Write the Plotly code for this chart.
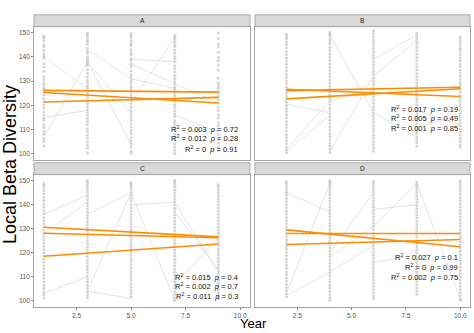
import plotly.graph_objects as go

# ---------------- data ----------------
panels = ["A", "B", "C", "D"]
years = {"A": [1, 3, 5, 7, 9], "B": [2, 4, 6, 8, 10],
         "C": [1, 3, 5, 7, 9], "D": [2, 4, 6, 8, 10]}

A_x1 = [148.6, 147.9, 146.8, 145.1, 144.2, 142.7, 141.3, 140.4, 139.6, 137.2, 135.8, 134.1, 131.9, 130.6, 129.2, 128.3, 127.1, 126.4, 125.6, 124.3, 122.8, 121.5, 120.2, 118.9, 117.3, 116.1, 114.7, 113.8, 112.2, 110.9, 109.4, 108.1, 106.3, 105.2, 103.4]
A_x3 = [149.8, 149.1, 148.2, 147.0, 146.3, 145.2, 143.6, 142.4, 141.5, 140.1, 139.0, 138.2, 137.4, 136.5, 134.8, 133.3, 131.7, 130.4, 129.3, 128.1, 127.2, 126.0, 124.9, 123.4, 122.1, 120.8, 119.6, 118.3, 117.2, 115.9, 114.6, 113.5, 112.1, 110.4, 109.2, 107.8, 106.5, 104.9, 103.6, 102.3, 100.4]
A_x5 = [149.7, 148.8, 147.9, 146.6, 145.4, 144.5, 143.1, 141.8, 140.9, 139.3, 138.4, 137.1, 135.9, 134.2, 132.6, 131.4, 130.2, 129.1, 127.8, 126.9, 125.7, 124.4, 123.3, 122.0, 120.7, 119.2, 117.8, 116.6, 115.1, 113.9, 112.4, 111.1, 109.6, 108.2, 106.7, 105.3, 104.1, 102.8, 101.2, 100.3]
A_x7 = [148.9, 148.1, 147.3, 146.2, 145.1, 144.3, 142.9, 141.6, 140.2, 139.1, 137.9, 136.4, 135.2, 133.8, 132.3, 131.1, 129.9, 128.7, 127.5, 126.6, 125.3, 124.1, 122.9, 121.8, 120.3, 119.1, 117.7, 116.4, 115.3, 113.7, 112.5, 111.3, 109.8, 108.3, 107.1, 105.6, 104.2, 102.9, 101.5, 100.2]
A_x9 = [149.9, 147.6, 145.3, 144.1, 141.9, 139.8, 138.4, 136.7, 134.5, 131.2, 129.4, 128.2, 127.3, 126.1, 125.0, 123.8, 122.3, 120.9, 119.4, 117.9, 116.2, 114.8, 112.9, 111.6, 109.7, 107.9, 106.2, 104.4, 102.7, 101.3]

B_x2 = [149.2, 148.4, 147.5, 146.1, 145.0, 143.7, 142.2, 140.9, 139.6, 138.3, 137.0, 135.6, 134.3, 132.9, 131.5, 130.1, 128.8, 127.4, 126.2, 125.1, 123.9, 122.6, 121.3, 120.0, 118.7, 117.5, 116.2, 114.9, 113.4, 112.1, 110.8, 109.5, 108.0, 106.8, 105.4, 104.2, 102.9, 101.7, 100.5]
B_x4 = [150.1, 149.3, 148.5, 147.4, 146.4, 145.3, 144.0, 142.6, 141.2, 139.9, 138.6, 137.2, 135.7, 134.4, 133.0, 131.8, 130.5, 129.2, 128.0, 126.8, 125.5, 124.2, 123.0, 121.7, 120.4, 119.0, 117.9, 116.5, 115.2, 113.9, 112.6, 111.2, 109.9, 108.4, 107.2, 105.9, 104.5, 103.3, 101.9, 100.6]
B_x6 = [150.8, 149.6, 148.3, 147.1, 145.9, 144.6, 143.4, 142.0, 140.7, 139.4, 138.0, 136.7, 135.4, 134.0, 132.8, 131.3, 130.0, 128.6, 127.3, 126.1, 124.8, 123.6, 122.2, 120.9, 119.5, 118.2, 116.9, 115.6, 114.3, 113.0, 111.6, 110.3, 109.1, 107.7, 106.4, 105.0, 103.8, 102.4, 101.1]
B_x8 = [149.8, 148.7, 147.6, 146.4, 145.2, 143.9, 142.5, 141.1, 139.8, 138.5, 137.1, 135.8, 134.6, 133.2, 131.9, 130.6, 129.3, 128.1, 126.7, 125.4, 124.1, 122.8, 121.6, 120.3, 119.0, 117.6, 116.3, 115.0, 113.8, 112.4, 111.0, 109.7, 108.5, 107.1, 105.8, 104.6, 103.2]
B_x10 = [148.3, 147.2, 146.0, 144.8, 143.5, 142.3, 141.0, 139.7, 138.4, 137.1, 135.9, 134.5, 133.3, 132.0, 130.7, 129.4, 128.2, 126.9, 125.6, 124.3, 123.1, 121.8, 120.5, 119.3, 118.0, 116.7, 115.4, 114.1, 112.8, 111.6, 110.3, 109.0, 107.8, 106.5, 105.2, 103.9, 102.9]

C_x1 = [149.0, 148.1, 147.0, 145.8, 144.5, 143.1, 141.7, 140.3, 139.0, 137.6, 136.2, 134.8, 133.4, 132.1, 130.7, 129.4, 128.0, 126.7, 125.4, 124.0, 122.7, 121.3, 120.0, 118.6, 117.3, 116.0, 114.6, 113.3, 111.9, 110.6, 109.3, 107.9, 106.5, 105.2, 103.8, 102.5, 101.2]
C_x3 = [150.0, 149.2, 148.3, 147.2, 146.0, 144.8, 143.5, 142.1, 140.8, 139.5, 138.2, 136.9, 135.5, 134.2, 132.9, 131.6, 130.3, 128.9, 127.6, 126.3, 125.0, 123.7, 122.3, 121.0, 119.7, 118.4, 117.0, 115.7, 114.4, 113.1, 111.8, 110.4, 109.1, 107.8, 106.5, 105.2, 103.8, 102.5, 101.3]
C_x5 = [149.2, 148.4, 147.5, 146.3, 145.1, 143.9, 142.6, 141.3, 140.0, 138.7, 137.4, 136.0, 134.7, 133.4, 132.0, 130.7, 129.4, 128.1, 126.8, 125.4, 124.1, 122.8, 121.5, 120.2, 118.8, 117.5, 116.2, 114.9, 113.6, 112.2, 110.9, 109.6, 108.3, 106.9, 105.6, 104.3, 103.0, 101.7]
C_x7 = [150.2, 149.4, 148.5, 147.4, 146.2, 145.0, 143.7, 142.4, 141.1, 139.7, 138.4, 137.1, 135.8, 134.4, 133.1, 131.8, 130.5, 129.1, 127.8, 126.5, 125.2, 123.8, 122.5, 121.2, 119.9, 118.5, 117.2, 115.9, 114.6, 113.2, 111.9, 110.6, 109.3, 107.9, 106.6, 105.3, 104.0, 102.6, 101.3, 100.1]
C_x9 = [148.3, 147.3, 146.2, 145.0, 143.8, 142.5, 141.2, 139.9, 138.6, 137.3, 136.0, 134.6, 133.3, 132.0, 130.7, 129.4, 128.1, 126.8, 125.5, 124.2, 122.9, 121.6, 120.3, 119.0, 117.7, 116.4, 115.1, 113.8, 112.5, 111.2, 109.9, 108.6, 107.3, 106.0, 104.7, 103.4, 102.1, 101.0]

D_x2 = [149.6, 148.7, 147.6, 146.4, 145.2, 143.9, 142.6, 141.3, 140.0, 138.6, 137.3, 136.0, 134.7, 133.3, 132.0, 130.7, 129.4, 128.0, 126.7, 125.4, 124.1, 122.7, 121.4, 120.1, 118.8, 117.4, 116.1, 114.8, 113.5, 112.1, 110.8, 109.5, 108.2, 106.8, 105.5, 104.2, 102.9, 101.6]
D_x4 = [150.0, 149.3, 148.5, 147.5, 146.5, 145.4, 144.2, 142.9, 141.6, 140.3, 139.0, 137.7, 136.4, 135.1, 133.8, 132.5, 131.2, 129.9, 128.6, 127.3, 126.0, 124.7, 123.4, 122.1, 120.8, 119.5, 118.2, 116.9, 115.6, 114.3, 113.0, 111.7, 110.4, 109.1, 107.8, 106.5, 105.2, 103.9, 102.6, 101.3, 100.2]
D_x6 = [149.7, 148.8, 147.8, 146.6, 145.4, 144.1, 142.8, 141.5, 140.2, 138.9, 137.6, 136.2, 134.9, 133.6, 132.3, 131.0, 129.7, 128.3, 127.0, 125.7, 124.4, 123.1, 121.8, 120.4, 119.1, 117.8, 116.5, 115.2, 113.9, 112.5, 111.2, 109.9, 108.6, 107.3, 106.0, 104.6, 103.3, 102.0, 101.0]
D_x8 = [149.4, 148.4, 147.3, 146.1, 144.9, 143.6, 142.3, 141.0, 139.7, 138.3, 137.0, 135.7, 134.4, 133.1, 131.7, 130.4, 129.1, 127.8, 126.5, 125.1, 123.8, 122.5, 121.2, 119.9, 118.5, 117.2, 115.9, 114.6, 113.3, 111.9, 110.6, 109.3, 108.0, 106.7, 105.3, 104.0, 102.7]
D_x10 = [149.9, 149.0, 147.9, 146.7, 145.5, 144.2, 142.9, 141.6, 140.3, 139.0, 137.7, 136.3, 135.0, 133.7, 132.4, 131.1, 129.8, 128.4, 127.1, 125.8, 124.5, 123.2, 121.9, 120.5, 119.2, 117.9, 116.6, 115.3, 114.0, 112.6, 111.3, 110.0, 108.7, 107.4, 106.1, 104.7, 103.4, 102.1, 100.9, 100.2]

points = {
    "A": [A_x1, A_x3, A_x5, A_x7, A_x9],
    "B": [B_x2, B_x4, B_x6, B_x8, B_x10],
    "C": [C_x1, C_x3, C_x5, C_x7, C_x9],
    "D": [D_x2, D_x4, D_x6, D_x8, D_x10],
}

# individual trajectories (gray lines): (years, values)
traj = {
    "A": [([1, 3], [140, 127]), ([1, 3], [107, 138]), ([1, 3], [115, 118]),
          ([3, 5, 7], [143, 131, 127]), ([3, 5], [138, 117]), ([3, 5], [138, 104]),
          ([5, 7], [139, 138]), ([5, 7, 9], [137, 129, 121]), ([5, 7], [121, 148]),
          ([7, 9], [116, 109])],
    "B": [([2, 4], [120.5, 117]), ([2, 4, 6], [102, 122, 126]), ([2, 4], [101, 116]),
          ([4, 6, 8], [149, 117, 107]), ([4, 6, 8], [101, 132, 147]), ([6, 8], [139, 149]),
          ([8, 10], [118, 112]), ([8, 10], [111, 116])],
    "C": [([1, 3], [136, 144]), ([1, 3], [128, 141]), ([3, 5], [136, 145]),
          ([1, 3], [103, 110]), ([3, 5], [104, 101]), ([3, 5, 7], [104, 145, 100]),
          ([5, 7, 9], [140, 141, 112]), ([7, 9], [107, 126]), ([7, 9], [137, 113])],
    "D": [([2, 4], [145, 137]), ([2, 4], [103, 149]), ([2, 4, 6], [102, 112, 123]),
          ([4, 6], [120, 145]), ([6, 8], [138, 140]), ([6, 8], [116, 119]),
          ([4, 6, 8, 10], [118, 131, 149, 101])],
}

# fitted lines: start and end values (at first and last year)
fit_start = {"A": [126.2, 125.3, 121.4], "B": [126.7, 126.1, 122.7],
             "C": [130.6, 128.1, 118.5], "D": [129.5, 128.0, 123.4]}
fit_end = {"A": [125.5, 121.0, 123.3], "B": [123.7, 127.5, 126.9],
           "C": [126.6, 126.2, 123.6], "D": [122.5, 128.0, 125.5]}

r2_vals = {"A": ["0.003", "0.012", "0"], "B": ["0.017", "0.005", "0.001"],
           "C": ["0.015", "0.002", "0.011"], "D": ["0.027", "0", "0.002"]}
p_vals = {"A": ["0.72", "0.28", "0.91"], "B": ["0.19", "0.49", "0.85"],
          "C": ["0.4", "0.7", "0.3"], "D": ["0.1", "0.99", "0.75"]}
label_y = {"A": [110.3, 106.4, 102.1], "B": [118.6, 114.7, 110.6],
           "C": [110.0, 106.1, 101.9], "D": [118.2, 114.2, 110.0]}

x_ticks = [2.5, 5.0, 7.5, 10.0]
x_ticktext = ["2.5", "5.0", "7.5", "10.0"]
y_ticks = [100, 110, 120, 130, 140, 150]

# ---------------- layout geometry ----------------
W, H = 474, 333
FONT = "Liberation Sans, Arial, sans-serif"
xdom = {"A": [34 / W, 250 / W], "B": [255 / W, 470 / W],
        "C": [34 / W, 250 / W], "D": [255 / W, 470 / W]}
ydom = {"A": [1 - 160 / H, 1 - 26.6 / H], "B": [1 - 160 / H, 1 - 26.6 / H],
        "C": [1 - 306.8 / H, 1 - 174.6 / H], "D": [1 - 306.8 / H, 1 - 174.6 / H]}
strip_h = 11.8 / H
axn = {"A": "", "B": "2", "C": "3", "D": "4"}

fig = go.Figure()
for p in panels:
    xa, ya = "x" + axn[p], "y" + axn[p]
    # points
    px, py = [], []
    for yr, vals in zip(years[p], points[p]):
        px += [yr] * len(vals)
        py += vals
    fig.add_trace(go.Scatter(x=px, y=py, mode="markers", xaxis=xa, yaxis=ya,
                             marker=dict(color="rgba(165,165,165,0.45)", size=3, line=dict(width=0)),
                             hoverinfo="skip", showlegend=False))
    # trajectories
    for xs, ys in traj[p]:
        fig.add_trace(go.Scatter(x=xs, y=ys, mode="lines", xaxis=xa, yaxis=ya,
                                 line=dict(color="rgba(200,200,200,0.7)", width=0.7),
                                 hoverinfo="skip", showlegend=False))
    # fits
    for s, e in zip(fit_start[p], fit_end[p]):
        fig.add_trace(go.Scatter(x=[years[p][0], years[p][-1]], y=[s, e], mode="lines",
                                 xaxis=xa, yaxis=ya,
                                 line=dict(color="#FF8C00", width=1.6),
                                 hoverinfo="skip", showlegend=False))
    # annotations
    for r2, pv, yy in zip(r2_vals[p], p_vals[p], label_y[p]):
        fig.add_annotation(x=10, y=yy, xref=xa, yref=ya, xanchor="right", yanchor="middle",
                           text=f"R<sup>2</sup> = {r2}&nbsp;&nbsp;<i>p</i> = {pv}",
                           showarrow=False, font=dict(family=FONT, size=7.5, color="#111111"))

    # strip
    x0, x1 = xdom[p]
    ytop = ydom[p][1]
    fig.add_shape(type="rect", xref="paper", yref="paper", x0=x0, x1=x1, y0=ytop, y1=ytop + strip_h,
                  fillcolor="#D9D9D9", line=dict(color="#9A9A9A", width=0.8))
    fig.add_annotation(x=(x0 + x1) / 2, y=ytop + strip_h / 2, xref="paper", yref="paper",
                       xanchor="center", yanchor="middle",
                       text=p, showarrow=False, font=dict(family=FONT, size=6.5, color="#1A1A1A"))

axis_common = dict(showgrid=False, zeroline=False, showline=True, mirror=True,
                   linecolor="#A5A5A5", linewidth=0.8,
                   tickfont=dict(family=FONT, size=6.5, color="#555555"),
                   ticklen=2, tickwidth=0.6, tickcolor="#888888")
layout_axes = {}
for p in panels:
    bottom = p in ("C", "D")
    left = p in ("A", "C")
    layout_axes["xaxis" + axn[p]] = dict(axis_common, domain=xdom[p], range=[0.55, 10.45],
                                         anchor="y" + axn[p], tickvals=x_ticks, ticktext=x_ticktext,
                                         showticklabels=bottom, ticks="outside" if bottom else "")
    layout_axes["yaxis" + axn[p]] = dict(axis_common, domain=ydom[p], range=[97.5, 152.5],
                                         anchor="x" + axn[p], tickvals=y_ticks,
                                         showticklabels=left, ticks="outside" if left else "")

fig.update_layout(width=W, height=H, margin=dict(l=0, r=0, t=0, b=0),
                  paper_bgcolor="white", plot_bgcolor="white", showlegend=False,
                  **layout_axes)

fig.add_annotation(x=10 / W, y=1 - 165 / H, xref="paper", yref="paper", text="Local Beta Diversity",
                   xanchor="center", yanchor="middle",
                   textangle=-90, showarrow=False, font=dict(family=FONT, size=18, color="black"))
fig.add_annotation(x=253 / W, y=0, xref="paper", yref="paper", text="Year",
                   xanchor="center", yanchor="bottom",
                   showarrow=False, font=dict(family=FONT, size=13, color="black"))

fig.write_html("out.html")
